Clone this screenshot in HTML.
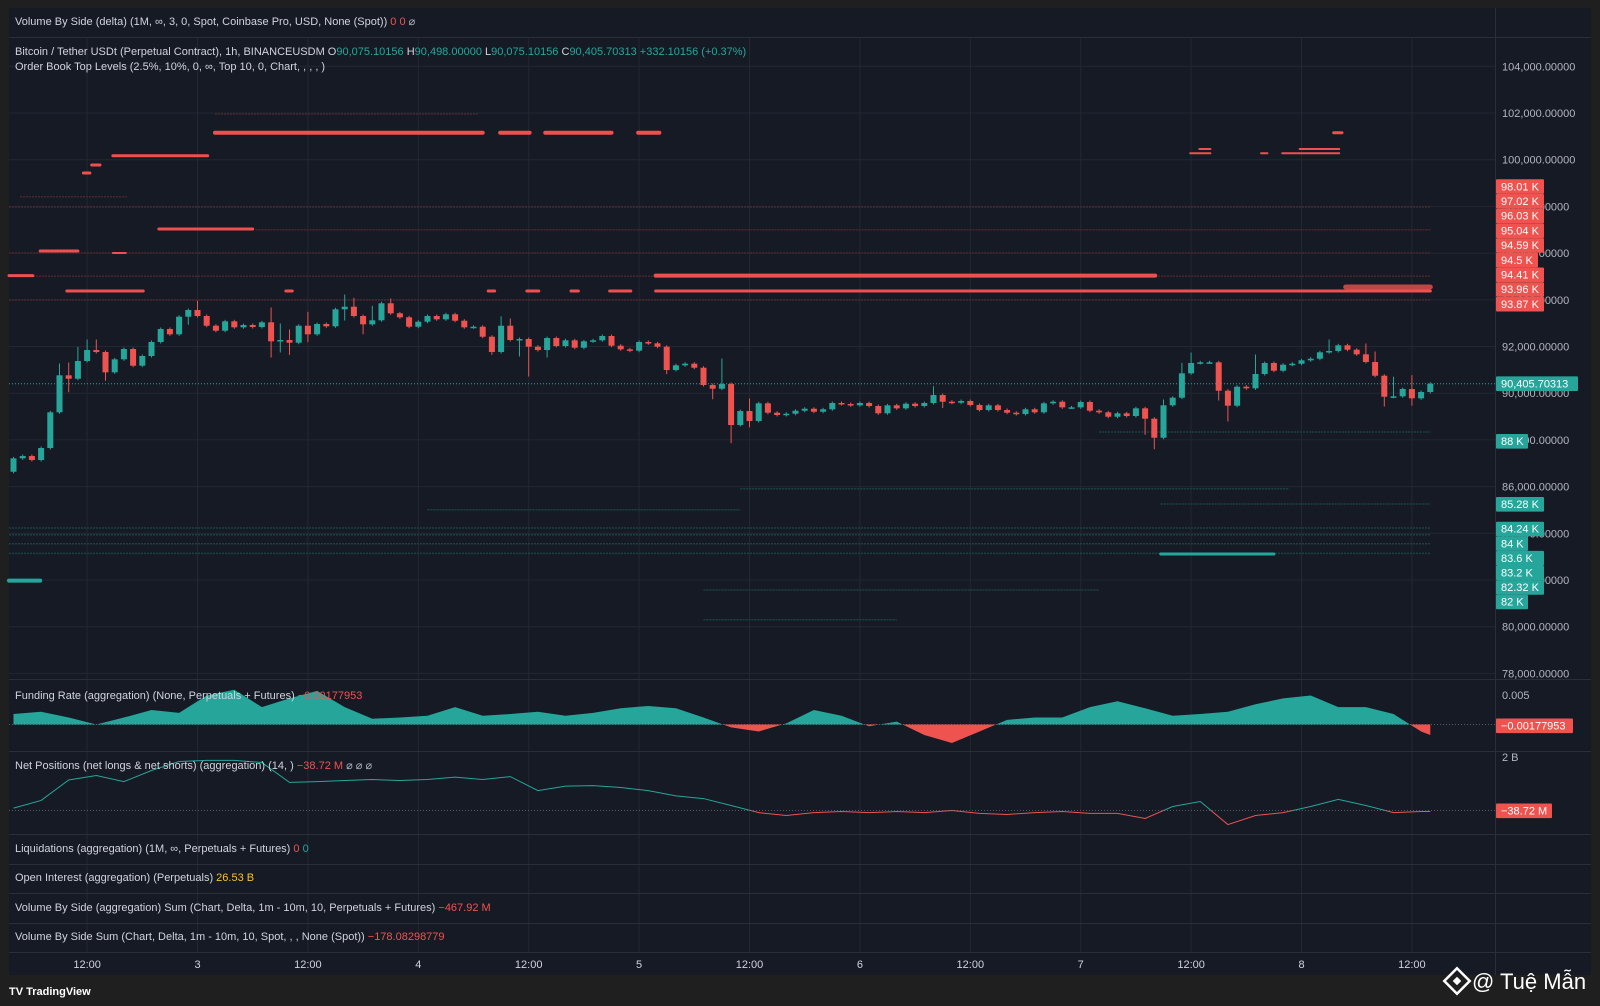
<!DOCTYPE html>
<html><head><meta charset="utf-8"><style>
html,body{margin:0;padding:0;background:#1e1e1e;}
svg{display:block;font-family:"Liberation Sans",sans-serif;}
</style></head><body>
<svg id="c" width="1600" height="1006" viewBox="0 0 1600 1006" xmlns="http://www.w3.org/2000/svg">
<rect x="0" y="0" width="1600" height="1006" fill="#1f1f1f"/>
<rect x="9" y="8" width="1582" height="967" fill="#161a25"/>
<g id="grid"></g>
<g id="ob"></g>
<g id="candles"></g>
<g id="fund"></g>
<g id="net"></g>
<g id="seps">
<line x1="9" y1="37.5" x2="1591" y2="37.5" stroke="#2a2e39"/>
<line x1="9" y1="679.5" x2="1591" y2="679.5" stroke="#2a2e39"/>
<line x1="9" y1="751.5" x2="1591" y2="751.5" stroke="#2a2e39"/>
<line x1="9" y1="834.5" x2="1591" y2="834.5" stroke="#2a2e39"/>
<line x1="9" y1="864.5" x2="1591" y2="864.5" stroke="#2a2e39"/>
<line x1="9" y1="893.5" x2="1591" y2="893.5" stroke="#2a2e39"/>
<line x1="9" y1="923.5" x2="1591" y2="923.5" stroke="#2a2e39"/>
<line x1="9" y1="952.5" x2="1591" y2="952.5" stroke="#2a2e39"/>
<line x1="1495.5" y1="8" x2="1495.5" y2="975" stroke="#2a2e39"/>
</g>
<g id="axis"></g>
<g id="taxis"></g>
<g font-size="11" fill="#d1d4dc">
<text x="15" y="25">Volume By Side (delta) (1M, ∞, 3, 0, Spot, Coinbase Pro, USD, None (Spot)) <tspan fill="#ef5350">0</tspan> <tspan fill="#ef5350"> 0</tspan> <tspan fill="#b2b5be"> ⌀</tspan></text>
<text x="15" y="55">Bitcoin / Tether USDt (Perpetual Contract), 1h, BINANCEUSDM  O<tspan fill="#26a69a">90,075.10156</tspan>  H<tspan fill="#26a69a">90,498.00000</tspan>  L<tspan fill="#26a69a">90,075.10156</tspan>  C<tspan fill="#26a69a">90,405.70313</tspan>  <tspan fill="#26a69a">+332.10156 (+0.37%)</tspan></text>
<text x="15" y="70">Order Book Top Levels (2.5%, 10%, 0, ∞, Top 10, 0, Chart, , , , )</text>
<text x="15" y="699">Funding Rate (aggregation) (None, Perpetuals + Futures) <tspan fill="#ef5350">−0.00177953</tspan></text>
<text x="15" y="769">Net Positions (net longs &amp; net shorts) (aggregation) (14, ) <tspan fill="#ef5350"> −38.72 M</tspan><tspan fill="#b2b5be">  ⌀  ⌀  ⌀</tspan></text>
<text x="15" y="852">Liquidations (aggregation) (1M, ∞, Perpetuals + Futures) <tspan fill="#ef5350"> 0</tspan><tspan fill="#26a69a">  0</tspan></text>
<text x="15" y="881">Open Interest (aggregation) (Perpetuals) <tspan fill="#f7c325"> 26.53 B</tspan></text>
<text x="15" y="911">Volume By Side (aggregation) Sum (Chart, Delta, 1m - 10m, 10, Perpetuals + Futures) <tspan fill="#ef5350"> −467.92 M</tspan></text>
<text x="15" y="940">Volume By Side Sum (Chart, Delta, 1m - 10m, 10, Spot, , , None (Spot)) <tspan fill="#ef5350"> −178.08298779</tspan></text>
</g>
<g>
<text x="9" y="995" font-size="11" font-weight="bold" fill="#ffffff">TV TradingView</text>
<g transform="translate(1457,981) rotate(45)"><rect x="-9" y="-9" width="18" height="18" fill="none" stroke="#fff" stroke-width="2.5"/><rect x="-3" y="-3" width="6" height="6" fill="#fff"/></g>
<text x="1472" y="989" font-size="22" fill="#ffffff">@ Tuệ Mẫn</text>
</g>
</svg>
<script>
const NS="http://www.w3.org/2000/svg";
const closes=[87211,87309,87138,87652,89181,90766,90620,91378,91849,91764,90894,91451,91892,91177,91593,92192,92749,92522,93276,93563,93306,92890,92676,93079,92822,92920,92835,93036,92222,92278,92162,92890,92522,92963,92865,93593,93704,93306,92950,93122,93850,93421,93250,92847,93062,93306,93164,93379,93104,92822,92847,92419,91764,92890,92278,92321,91991,91849,92363,92021,92265,91948,92222,92265,92449,92034,91879,91820,92192,92136,91991,90993,91194,91263,91091,90350,90192,90393,88637,89237,88809,89567,89164,89066,89121,89250,89335,89207,89310,89580,89537,89481,89580,89451,89139,89481,89352,89550,89451,89580,89922,89635,89593,89665,89494,89280,89481,89280,89164,89108,89310,89181,89567,89635,89395,89395,89622,89250,89181,88993,89139,89023,89352,88907,88093,89481,89807,90852,91293,91323,91323,90106,89464,90278,90209,90822,91293,90963,91220,91263,91408,91477,91751,91807,92051,91862,91665,91336,90749,89849,89866,90179,89781,90051,90406];
const firstOpen=86637;
const highIdx=[5,6,7,8,9,20,28,29,30,32,36,37,39,41,53,54,77,80,100,125,127,128,135,143,147,148,150,152];
const highVal=[91207,91250,91922,92235,92235,93893,93606,92920,92663,93421,94162,94021,93678,93990,93232,93134,91421,89708,90234,89666,91237,91678,91593,92235,92064,91721,90640,90710];
const lowIdx=[0,6,10,19,28,29,30,32,36,38,52,55,56,58,71,75,76,78,79,80,101,123,124,131,132,149,150,152];
const lowVal=[86637,90106,90595,92993,91593,91807,91708,92248,93177,92590,91708,91635,90779,91593,90880,90400,89807,87922,88980,88600,89430,88280,87665,89751,88852,89494,89850,89530];
const priceTicks=[104000,102000,100000,98000,96000,94000,92000,90000,88000,86000,84000,82000,80000,78000];
const timeLabelIdx=[8,20,32,44,56,68,80,92,104,116,128,140,152];
const timeLabels=["12:00","3","12:00","4","12:00","5","12:00","6","12:00","7","12:00","8","12:00"];
const obPrice=[101156,101156,101156,101156,100171,99773,99430,97031,96089,96003,95036,95036,94376,94376,94376,94376,94376,94376,94376,94547,100459,100459,100276,100276,100276,101156,81972,83111];
const obFrom=[21.9,52.9,57.8,67.9,10.8,8.5,7.6,15.8,2.9,10.8,-0.5,69.8,5.8,29.6,51.6,55.8,60.6,64.8,69.8,144.8,128.9,139.8,127.9,135.6,137.9,143.5,-0.8,124.7];
const obTo=[51,56.1,65,70.2,21.1,9.4,8.3,26,7,12.2,2.1,124.1,14.1,30.3,52.3,57.1,61.4,67.1,154,154,130.1,144.1,130.1,136.3,144.1,144.4,2.9,137];
const obWidth=[4,4,4,4,3,3,3,3,3,2,3,4,3,3,3,3,3,3,3,5,2,2,2,2,2,3,4,3];
const obSide=["a","a","a","a","a","a","a","a","a","a","a","a","a","a","a","a","a","a","a","a","a","a","a","a","a","a","b","b"];
const faintPrice=[101957,98415,97974,97001,96003,95006,93991,85910,85010,84225,83938,83553,83142,85255,81570,88340,80300];
const faintFrom=[21.9,0.7,-0.8,26.3,-0.8,-0.8,-0.8,79,45,-0.8,-0.8,-0.8,-0.8,124.7,75,118,75];
const faintTo=[50.5,12.3,154,154,154,154,154,138.7,79,154,154,154,154,154,118,154,96];
const faintSide=["a","a","a","a","a","a","a","b","b","b","b","b","b","b","b","b","b"];
const askLabels=["98.01 K","97.02 K","96.03 K","95.04 K","94.59 K","94.5 K","94.41 K","93.96 K","93.87 K"];
const bidLabels=["84.24 K","84 K","83.6 K","83.2 K","82.32 K","82 K"];
const fundingIdx=[0,3,6,9,12,15,18,21,24,27,30,33,36,39,42,45,48,51,54,57,60,63,66,69,72,75,78,81,84,87,90,93,96,99,102,105,108,111,114,117,120,123,126,129,132,135,138,141,144,147,150,153,154];
const fundingVal=[0.0018,0.0022,0.0012,0.0000,0.0012,0.0025,0.0020,0.0050,0.0060,0.0030,0.0045,0.0058,0.0030,0.0010,0.0012,0.0015,0.0030,0.0015,0.0018,0.0022,0.0015,0.0020,0.0028,0.0032,0.0028,0.0012,-0.0005,-0.0012,0.0002,0.0025,0.0015,-0.0003,0.0005,-0.0018,-0.0032,-0.0012,0.0008,0.0012,0.0012,0.0030,0.0040,0.0028,0.0015,0.0018,0.0022,0.0035,0.0045,0.0050,0.0030,0.0030,0.0018,-0.0012,-0.0018];
const netVal=[0.09,0.38,1.15,1.32,1.09,1.51,1.85,1.89,1.89,1.81,1.06,1.09,1.13,1.17,1.13,1.17,1.26,1.17,1.28,0.75,0.92,0.94,0.87,0.75,0.55,0.45,0.19,-0.08,-0.19,-0.08,-0.04,-0.08,-0.04,-0.08,0,-0.11,-0.15,-0.08,-0.04,-0.11,-0.11,-0.3,0.15,0.34,-0.53,-0.19,-0.08,0.15,0.42,0.19,-0.08,-0.04,-0.04];

const UP="#26a69a",DN="#ef5350";
const xOf=i=>13.5+9.2*i;
const yOf=p=>66.3+(104000-p)/2000*46.7;
const fZero=724.5,fScale=29/0.005;
const fy=v=>fZero-v*fScale;
const nZero=810.5,ny=v=>nZero-v*26.5;
function mk(t,a,parent){const e=document.createElementNS(NS,t);for(const k in a)e.setAttribute(k,a[k]);parent.appendChild(e);return e;}
const G=id=>document.getElementById(id);

const grid=G("grid");
priceTicks.forEach(p=>{const l=mk("line",{x1:9,x2:1495,y1:yOf(p),y2:yOf(p),stroke:"#232733"},grid);

});
timeLabelIdx.forEach(i=>{const l=mk("line",{x1:xOf(i),x2:xOf(i),y1:37,y2:952,stroke:"#232733"},grid);

});

const ob=G("ob");
faintPrice.forEach((p,k)=>{const l=mk("line",{x1:Math.max(9,xOf(faintFrom[k])),x2:Math.min(1495,xOf(faintTo[k])),y1:yOf(p),y2:yOf(p),stroke:faintSide[k]=="a"?"#4a262c":"#1b4242","stroke-width":1.5,"stroke-dasharray":"2 1"},ob);

});
obPrice.forEach((p,k)=>{const l=mk("line",{x1:Math.max(9,xOf(obFrom[k])),x2:Math.min(1495,xOf(obTo[k])),y1:yOf(p),y2:yOf(p),stroke:obSide[k]=="a"?(obWidth[k]>4?"#c04545":"#f04f4f"):UP,"stroke-width":obWidth[k],"stroke-linecap":"round"},ob);

});

const cg=G("candles");
const hiMap={},loMap={};
highIdx.forEach((i,k)=>hiMap[i]=highVal[k]);
lowIdx.forEach((i,k)=>loMap[i]=lowVal[k]);
closes.forEach((c,i)=>{
 const o=i==0?firstOpen:closes[i-1];
 const col=c>=o?UP:DN;
 const hi=Math.max(hiMap[i]||0,o,c),lo=Math.min(loMap[i]||1e9,o,c);
 const x=xOf(i);
 const w=mk("line",{x1:x,x2:x,y1:yOf(hi)-1.5,y2:yOf(lo)+1.5,stroke:col,"stroke-width":1},cg);
 
 
 const y1=yOf(Math.max(o,c)),y2=yOf(Math.min(o,c));
 const b=mk("rect",{x:x-3,y:y1,width:6,height:Math.max(1.5,y2-y1),fill:col},cg);
 
 
});
const last=closes[closes.length-1];
const pl=mk("line",{x1:9,x2:1495,y1:yOf(last),y2:yOf(last),stroke:UP,"stroke-dasharray":"1 2"},cg);



const fg=G("fund");
const zl=mk("line",{x1:9,x2:1495,y1:fZero,y2:fZero,stroke:"#555b66","stroke-dasharray":"1 2"},fg);


const defs=mk("defs",{},fg);
const cp1=mk("clipPath",{id:"fpos"},defs);mk("rect",{x:0,y:679,width:1600,height:fZero-679},cp1);
const cp2=mk("clipPath",{id:"fneg"},defs);mk("rect",{x:0,y:fZero,width:1600,height:30},cp2);
let d="M"+xOf(fundingIdx[0])+","+fZero;
fundingIdx.forEach((i,k)=>{d+=" L"+xOf(i)+","+fy(fundingVal[k]);});
d+=" L"+xOf(fundingIdx[fundingIdx.length-1])+","+fZero+" Z";
const fa=mk("path",{d:d,fill:UP,"clip-path":"url(#fpos)"},fg);


const fb=mk("path",{d:d,fill:DN,"clip-path":"url(#fneg)"},fg);



const ng=G("net");
const nz=mk("line",{x1:9,x2:1495,y1:nZero,y2:nZero,stroke:"#555b66","stroke-dasharray":"1 2"},ng);


const nd1=mk("clipPath",{id:"npos"},defs);mk("rect",{x:0,y:751,width:1600,height:nZero-751},nd1);
const nd2=mk("clipPath",{id:"nneg"},defs);mk("rect",{x:0,y:nZero,width:1600,height:30},nd2);
let nd="";
netVal.forEach((v,k)=>{nd+=(k?" L":"M")+xOf(fundingIdx[k])+","+ny(v);});
const n1=mk("path",{d:nd,fill:"none",stroke:UP,"stroke-width":1,"clip-path":"url(#npos)"},ng);


const n2=mk("path",{d:nd,fill:"none",stroke:DN,"stroke-width":1,"clip-path":"url(#nneg)"},ng);



const ax=G("axis");
function txt(parent,x,y,s,fill,size,anchor){const t=mk("text",{x:x,y:y,fill:fill,"font-size":size||11,"text-anchor":anchor||"start"},parent);t.textContent=s;return t;}
priceTicks.forEach(p=>{const t=txt(ax,1502,yOf(p)+4,p.toLocaleString("en-US")+".00000","#b2b5be");

});
function tag(y,label,col,w){const r=mk("rect",{x:1496,y:y,width:w,height:14.6,fill:col,rx:1},ax);


const t=txt(ax,1501,y+11,label,"#ffffff");

}
askLabels.forEach((s,k)=>tag(179.3+k*14.7,s,DN,s.length>6?48:42));
tag(434,"88 K",UP,32);
tag(497,"85.28 K",UP,48);
bidLabels.forEach((s,k)=>tag(521.7+k*14.6,s,UP,s.length>5?48:s.length>4?42:32));
tag(yOf(last)-7.3,"90,405.70313",UP,82);
const f1=txt(ax,1502,699,"0.005","#b2b5be");


const f0=txt(ax,1502,728,"0","#b2b5be");


tag(fZero-6,"−0.00177953",DN,77);
const n2b=txt(ax,1502,761,"2 B","#b2b5be");


tag(nZero-7,"−38.72 M",DN,56);

const tx=G("taxis");
timeLabelIdx.forEach((i,k)=>{const t=txt(tx,xOf(i),968,timeLabels[k],"#d1d4dc",11,"middle");

});
</script>
</body></html>
